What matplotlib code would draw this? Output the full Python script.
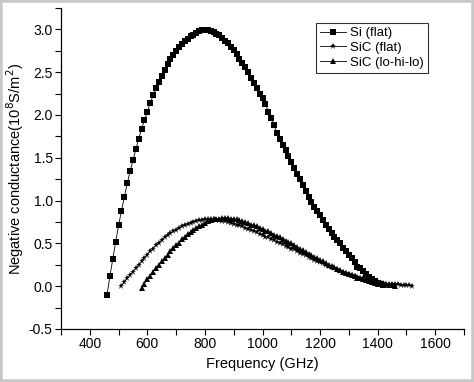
import numpy as np
import matplotlib
matplotlib.use("Agg")
import matplotlib.pyplot as plt
from matplotlib.patches import Rectangle

plt.rcParams['font.family'] = ['Liberation Sans', 'DejaVu Sans']

si_start, si_step = 460, 10
si_vals = [-0.10, 0.12, 0.32, 0.52, 0.71, 0.88, 1.04, 1.20, 1.34, 1.47,
           1.60, 1.72, 1.84, 1.94, 2.04, 2.14, 2.23, 2.31, 2.39, 2.46,
           2.53, 2.59, 2.65, 2.70, 2.75, 2.79, 2.83, 2.86, 2.89, 2.92,
           2.94, 2.96, 2.98, 2.99, 2.99, 2.99, 2.98, 2.97, 2.95, 2.93,
           2.90, 2.87, 2.84, 2.80, 2.76, 2.71, 2.66, 2.61, 2.56, 2.50,
           2.43, 2.37, 2.31, 2.25, 2.20, 2.13, 2.04, 1.96, 1.88, 1.79,
           1.72, 1.65, 1.59, 1.52, 1.45, 1.38, 1.31, 1.25, 1.18, 1.11,
           1.04, 0.98, 0.93, 0.88, 0.83, 0.77, 0.72, 0.67, 0.62, 0.58,
           0.54, 0.50, 0.45, 0.41, 0.37, 0.33, 0.28, 0.23, 0.21, 0.18,
           0.14, 0.11, 0.08, 0.06, 0.04, 0.02, 0.01]

sic_start, sic_step = 510, 10
sic_vals = [0.00, 0.05, 0.09, 0.13, 0.17, 0.21, 0.25, 0.29, 0.33, 0.37,
            0.41, 0.44, 0.48, 0.51, 0.54, 0.57, 0.60, 0.62, 0.64, 0.66,
            0.68, 0.70, 0.72, 0.73, 0.74, 0.75, 0.76, 0.77, 0.77, 0.78,
            0.78, 0.78, 0.78, 0.77, 0.77, 0.76, 0.76, 0.75, 0.74, 0.73,
            0.72, 0.71, 0.70, 0.68, 0.67, 0.66, 0.64, 0.63, 0.61, 0.60,
            0.58, 0.57, 0.55, 0.54, 0.52, 0.51, 0.49, 0.47, 0.46, 0.44,
            0.43, 0.41, 0.39, 0.38, 0.36, 0.34, 0.33, 0.31, 0.30, 0.28,
            0.27, 0.25, 0.24, 0.22, 0.21, 0.20, 0.18, 0.17, 0.16, 0.14,
            0.13, 0.12, 0.11, 0.10, 0.09, 0.08, 0.07, 0.06, 0.05, 0.05,
            0.04, 0.04, 0.03, 0.03, 0.02, 0.02, 0.02, 0.01, 0.01, 0.01,
            0.01, 0.00]

lhl_start, lhl_step = 580, 10
lhl_vals = [-0.02, 0.03, 0.08, 0.12, 0.17, 0.21, 0.25, 0.29, 0.33, 0.37,
            0.41, 0.45, 0.48, 0.51, 0.55, 0.58, 0.61, 0.63, 0.66, 0.68,
            0.70, 0.72, 0.74, 0.76, 0.77, 0.78, 0.79, 0.79, 0.80, 0.80,
            0.80, 0.79, 0.79, 0.78, 0.77, 0.76, 0.75, 0.74, 0.72, 0.71,
            0.70, 0.68, 0.67, 0.65, 0.64, 0.62, 0.60, 0.59, 0.57, 0.55,
            0.53, 0.52, 0.50, 0.48, 0.46, 0.44, 0.42, 0.40, 0.38, 0.36,
            0.34, 0.33, 0.31, 0.29, 0.27, 0.25, 0.24, 0.22, 0.20, 0.19,
            0.17, 0.16, 0.14, 0.13, 0.12, 0.10, 0.09, 0.08, 0.07, 0.06,
            0.05, 0.04, 0.03, 0.03, 0.02, 0.02, 0.01, 0.01, 0.00]

labels = ["Si (flat)", "SiC (flat)", "SiC (lo-hi-lo)"]
x_ticks = [400, 600, 800, 1000, 1200, 1400, 1600]
y_ticks = [-0.5, 0.0, 0.5, 1.0, 1.5, 2.0, 2.5, 3.0]

def freq(start, step, vals):
    return [start + step * i for i in range(len(vals))]

fig = plt.figure(figsize=(4.74, 3.82), dpi=100)
ax = fig.add_axes([61 / 474, 1 - 329 / 382, (464 - 61) / 474, (329 - 8) / 382])

line_kw = dict(color='black', linewidth=0.6, markeredgewidth=0)
ax.plot(freq(si_start, si_step, si_vals), si_vals, marker='s', markersize=3.8,
        label=labels[0], **line_kw)
ax.plot(freq(sic_start, sic_step, sic_vals), sic_vals, marker='*', markersize=5,
        label=labels[1], **line_kw)
ax.plot(freq(lhl_start, lhl_step, lhl_vals), lhl_vals, marker='^', markersize=4.3,
        label=labels[2], **line_kw)

ax.set_xlim(300, 1700)
ax.set_ylim(-0.5, 3.25)
ax.set_xticks(x_ticks)
ax.set_xticks(np.arange(300, 1701, 100), minor=True)
ax.set_yticks(y_ticks)
ax.set_yticks(np.arange(-0.5, 3.26, 0.25), minor=True)
ax.set_yticklabels([f"{v:.1f}" for v in y_ticks])
ax.tick_params(which='both', direction='out', width=0.8, labelsize=10)
ax.tick_params(which='major', length=4, pad=2)
ax.tick_params(which='minor', length=4)
for s in ['top', 'right']:
    ax.spines[s].set_visible(False)
for s in ['left', 'bottom']:
    ax.spines[s].set_linewidth(0.9)

ax.set_xlabel("Frequency (GHz)", fontsize=10.5, labelpad=4)
ax.set_ylabel("Negative conductance(10$^8$S/m$^2$)", fontsize=10.5, labelpad=2)

leg = ax.legend(loc='upper left', bbox_to_anchor=((316 - 61) / 403, 1 - (23 - 8) / 321),
                frameon=True, fancybox=False, edgecolor='black', fontsize=9.5,
                handlelength=2.0, handletextpad=0.3, borderpad=0.3,
                labelspacing=0.2, borderaxespad=0)
leg.get_frame().set_linewidth(0.8)
for h in leg.legend_handles:
    h.set_linewidth(0.6)

fig.patches.append(Rectangle((0, 0), 1, 1, transform=fig.transFigure, fill=False,
                             edgecolor='#c8c8c8', linewidth=4))

fig.savefig("out.png", dpi=100)
